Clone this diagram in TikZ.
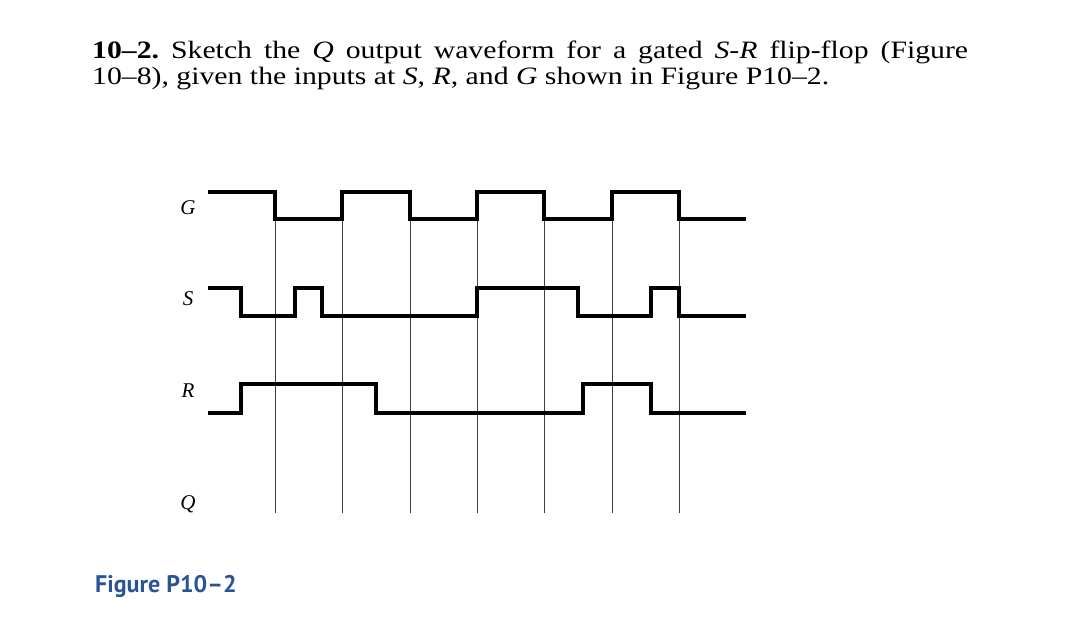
\documentclass[tikz,border=0pt]{standalone}
\usepackage{fontspec}
\setmainfont{Liberation Serif}
\newfontfamily\titlefont{Liberation Serif}[FakeStretch=1.19]
\newfontfamily\capfont{PT Sans}
\usepackage{tikz}
\usetikzlibrary{positioning}

\definecolor{capblue}{RGB}{40,84,150}

\begin{document}
\begin{tikzpicture}[x=1pt,y=-1pt]
			\tikzstyle{Wave}	= [line width=4.6pt, black, miter limit=10]
			\tikzstyle{Grid}	= [line width=1pt, black!75]
			\tikzstyle{Sig}		= [inner sep=0pt, font=\fontsize{21}{21}\selectfont\itshape]
			\tikzstyle{Title}	= [inner sep=0pt, text width=876pt, align=justify, font=\titlefont\fontsize{25}{25.5}\selectfont\frenchspacing]
			\tikzstyle{Caption}	= [inner sep=0pt, text=capblue, font=\capfont\bfseries\fontsize{24}{24}\selectfont]

			\useasboundingbox (0,0) rectangle (1080,630);

			% problem text
			\node (title) at (92,41) [Title, anchor=north west] {\textbf{10–2.} Sketch the \textit{Q} output waveform for a gated \textit{S-R} flip-flop (Figure\linebreak 10–8), given the inputs at \textit{S}, \textit{R}, and \textit{G} shown in Figure P10–2.};

			% signal names
			\node (g) at (188,208) [Sig] {G};
			\node (s) at (188,299) [Sig] {S};
			\node (r) at (188,391) [Sig] {R};
			\node (q) at (188,504) [Sig] {Q};

			% time marks
			\foreach \t in {275,342,410,477,544,612,679}
				\draw [Grid] (\t,219) -- (\t,513);

			% waveforms
			\draw [Wave] (208,192) -- (275,192) -- (275,219) -- (342,219) -- (342,192) -- (410,192) -- (410,219) -- (477,219) -- (477,192) -- (544,192) -- (544,219) -- (612,219) -- (612,192) -- (679,192) -- (679,219) -- (746,219);
			\draw [Wave] (208,288) -- (241,288) -- (241,316) -- (295,316) -- (295,288) -- (322,288) -- (322,316) -- (477,316) -- (477,288) -- (578,288) -- (578,316) -- (651,316) -- (651,288) -- (679,288) -- (679,316) -- (746,316);
			\draw [Wave] (208,413) -- (241,413) -- (241,384) -- (376,384) -- (376,413) -- (583,413) -- (583,384) -- (651,384) -- (651,413) -- (746,413);

			\node (cap) at (95,592) [Caption, anchor=base west] {Figure P10–2};
		\end{tikzpicture}
\end{document}
